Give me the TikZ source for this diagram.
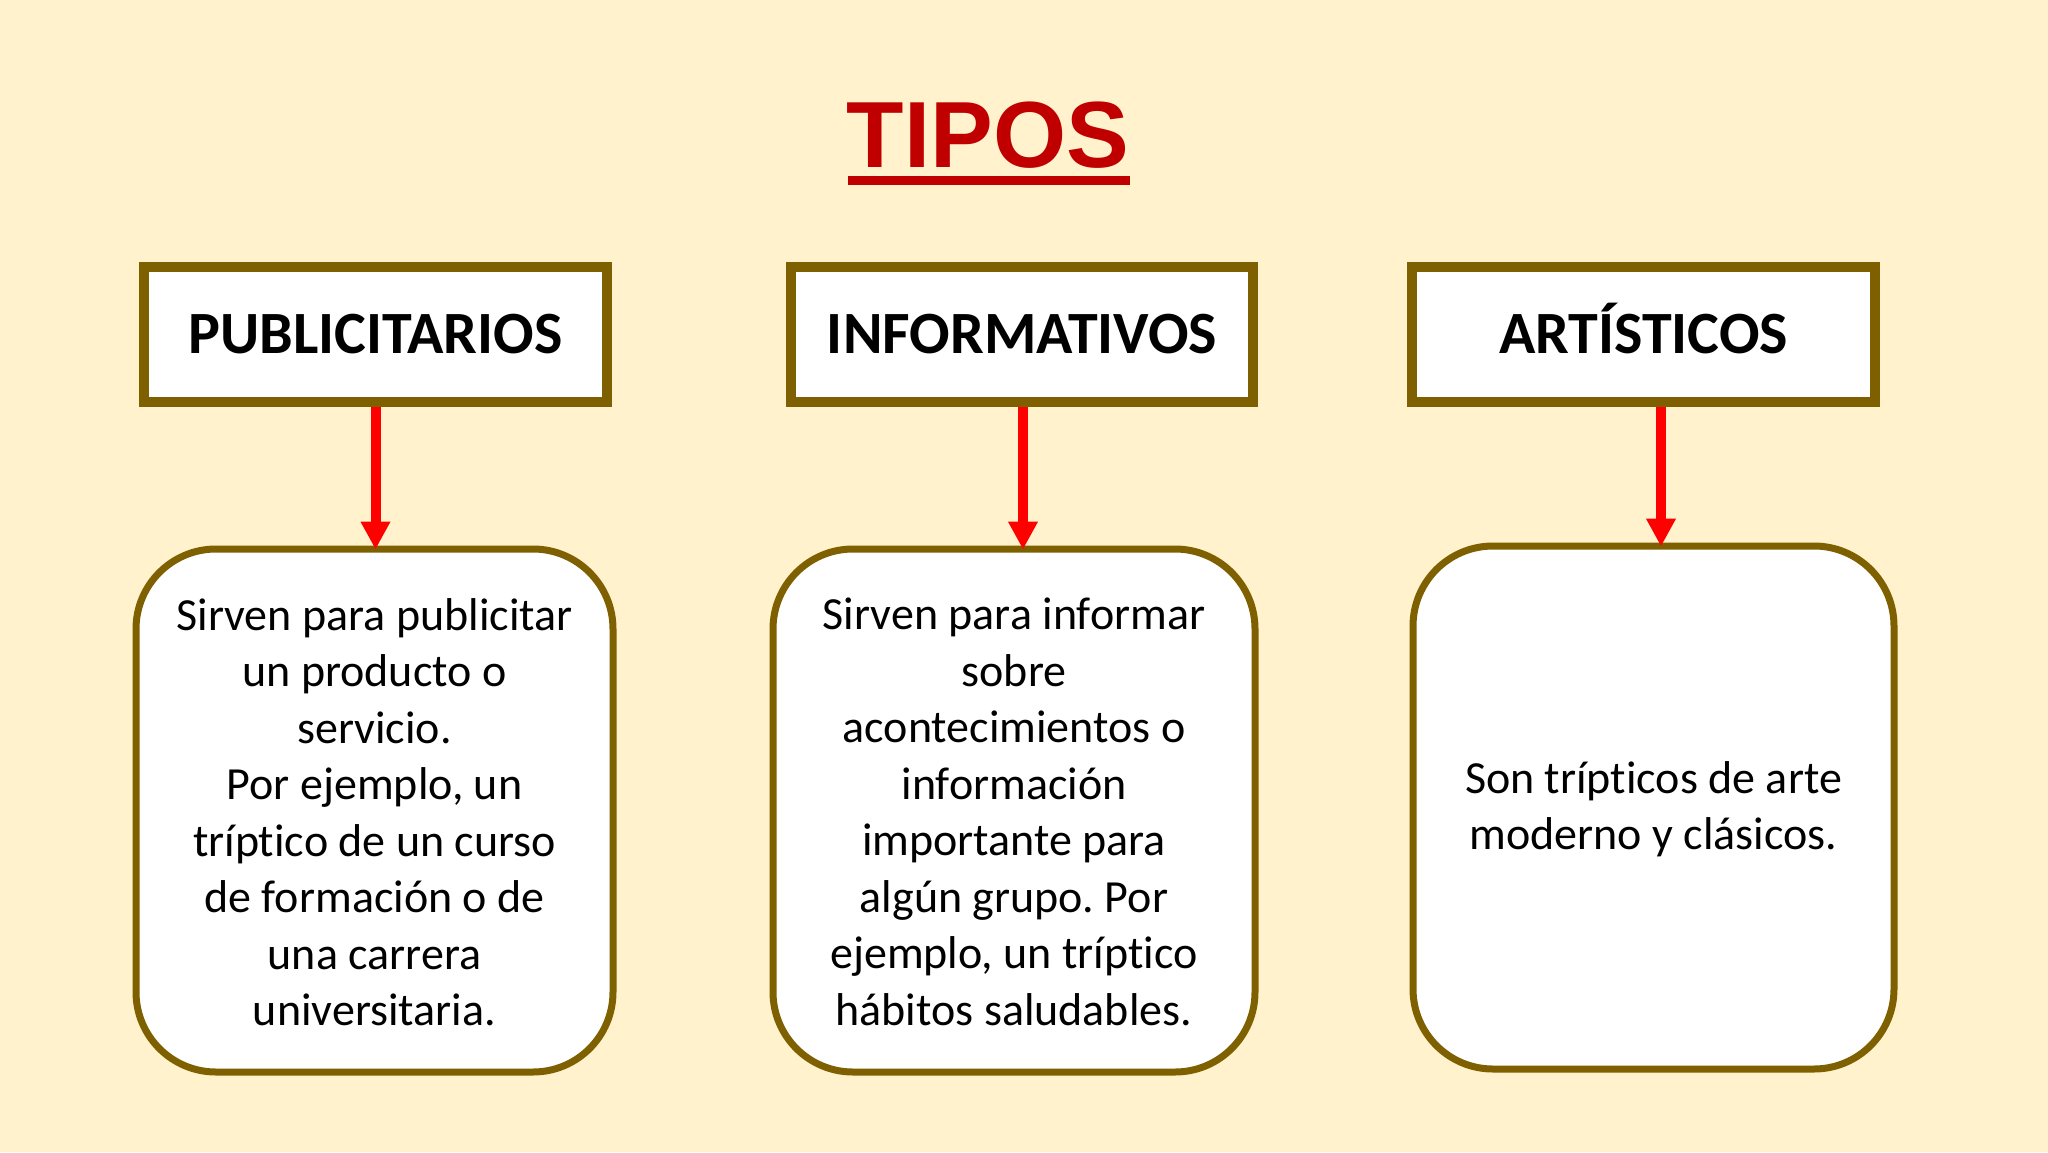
\documentclass[tikz,border=0pt]{standalone}
\usepackage{fontspec}
\setmainfont{Carlito}[Ligatures={NoCommon}]
\newfontfamily\titlefont{Liberation Sans}
\usetikzlibrary{arrows.meta}
\frenchspacing
\definecolor{bgc}{HTML}{FFF2CC}
\definecolor{olive}{HTML}{7F6000}
\definecolor{titlered}{HTML}{C00000}
\definecolor{arrred}{HTML}{FF0000}
\tikzset{
  headbox/.style={draw=olive, line width=10pt, fill=white, minimum height=135pt, inner sep=0pt},
  headtext/.style={font=\fontsize{60}{72}\selectfont\bfseries, anchor=base, inner sep=0pt},
  bodybox/.style={draw=olive, line width=7pt, fill=white, rounded corners=80pt, minimum height=523pt, inner sep=0pt},
  bodytext/.style={font=\fontsize{46}{56.5}\selectfont\frenchspacing, align=center, inner sep=0pt},
  arr/.style={draw=arrred, line width=10pt, -{Triangle[width=28pt,length=28pt]}, shorten >=-4pt}
}
\begin{document}
\begin{tikzpicture}[x=1pt,y=-1pt]
\fill[bgc] (0,0) rectangle (2048,1152);
\useasboundingbox (0,0) rectangle (2048,1152);
% title
\node[font=\fontsize{94}{110}\titlefont\bfseries, text=titlered, anchor=base, inner sep=0pt] (title) at (988,167) {TIPOS};
\coordinate (ul1) at (848,180.5);
\coordinate (ul2) at (1130,180.5);
\draw[titlered, line width=9pt] (ul1) -- (ul2);
% header boxes
\node[headbox, minimum width=463pt] (h1) at (375.5,334.5) {};
\node[headbox, minimum width=462pt] (h2) at (1022,334.5) {};
\node[headbox, minimum width=463pt] (h3) at (1643.5,334.5) {};
\node[headtext] (t1) at (375.5,353) {PUBLICITARIOS};
\node[headtext] (t2) at (1022,353) {INFORMATIVOS};
\node[headtext] (t3) at (1643.5,353) {ARTÍSTICOS};
% body boxes
\node[bodybox, minimum width=477pt] (b1) at (374.5,810.5) {};
\node[bodybox, minimum width=482pt] (b2) at (1014,810.5) {};
\node[bodybox, minimum width=481pt] (b3) at (1653.5,807.5) {};
\node[bodytext] (x1) at (374.5,812) {Sirven para publicitar\\un producto o\\servicio.\\Por ejemplo, un\\tríptico de un curso\\de formación o de\\una carrera\\universitaria.};
\node[bodytext] (x2) at (1014,812) {Sirven para informar\\sobre\\acontecimientos o\\información\\importante para\\algún grupo. Por\\ejemplo, un tríptico\\hábitos saludables.};
\node[bodytext] (x3) at (1653.5,809) {Son trípticos de arte\\moderno y clásicos.};
% arrows
\draw[arr] (h1.south) -- (h1.south |- b1.north);
\draw[arr] ([xshift=1pt]h2.south) -- ([xshift=1pt]h2.south |- b2.north);
\draw[arr] ([xshift=17.5pt]h3.south) -- ([xshift=17.5pt]h3.south |- b3.north);
\end{tikzpicture}
\end{document}
